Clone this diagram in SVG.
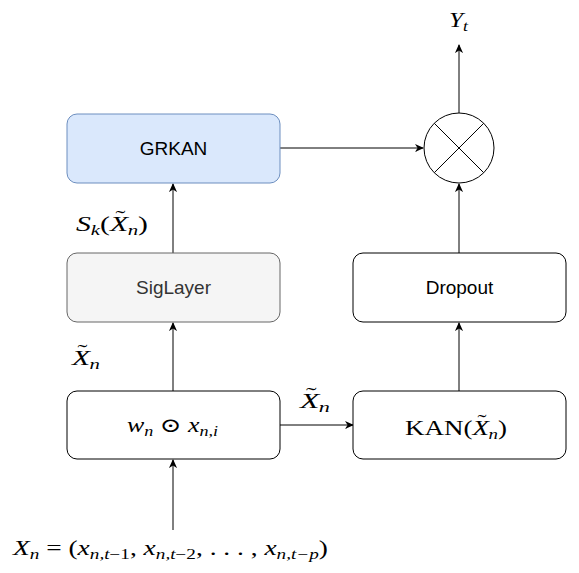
<svg xmlns="http://www.w3.org/2000/svg" width="579" height="573" viewBox="0 0 579 573">
<defs>
<marker id="ah" viewBox="0 0 10 10" refX="9" refY="5" markerWidth="9" markerHeight="9" markerUnits="userSpaceOnUse" orient="auto">
<path d="M0,0.5 L10,5 L0,9.5 L3,5 Z" fill="#000"/>
</marker>
<style>
.box{fill:#fff;stroke:#000;stroke-width:1}
.lbl{font-family:"Helvetica","Liberation Sans",Arial,sans-serif;font-size:19px;text-anchor:middle;fill:#000}
.m{font-family:"Liberation Serif","DejaVu Serif",serif;font-size:20px;fill:#000}
.i{font-style:italic}
.s{font-size:14px}
.c{fill:none;stroke:#000;stroke-width:1}
</style>
</defs>
<rect width="579" height="573" fill="#fff"/>

<g id="connectors">
<path class="c" d="M173,530 L173,460" marker-end="url(#ah)"/>
<path class="c" d="M173,391 L173,323" marker-end="url(#ah)"/>
<path class="c" d="M173,253 L173,184" marker-end="url(#ah)"/>
<path class="c" d="M280,148 L423,148" marker-end="url(#ah)"/>
<path class="c" d="M280,425 L353,425" marker-end="url(#ah)"/>
<path class="c" d="M459,391 L459,323" marker-end="url(#ah)"/>
<path class="c" d="M459,253 L459,184" marker-end="url(#ah)"/>
<path class="c" d="M459,113 L459,45" marker-end="url(#ah)"/>
</g>

<g id="grkan">
<rect x="67" y="114" width="213" height="69" rx="10" fill="#dae8fc" stroke="#6c8ebf"/>
<text class="lbl" x="173.5" y="155">GRKAN</text>
</g>

<g id="siglayer">
<rect x="67" y="253" width="213" height="69" rx="10" fill="#f5f5f5" stroke="#666666"/>
<text class="lbl" x="173.5" y="294" style="fill:#333333">SigLayer</text>
</g>

<g id="weight">
<rect class="box" x="67" y="391" width="213" height="68" rx="10"/>
<text class="m" x="127" y="432" textLength="91" lengthAdjust="spacingAndGlyphs"><tspan class="i">w</tspan><tspan class="s i" dy="4">n</tspan><tspan dy="-4"> ⊙ </tspan><tspan class="i">x</tspan><tspan class="s i" dy="4">n,i</tspan></text>
</g>

<g id="kan">
<rect class="box" x="353" y="391" width="213" height="68" rx="10"/>
<text class="m" x="405" y="435" textLength="102" lengthAdjust="spacingAndGlyphs">KAN(<tspan class="i">X</tspan><tspan dx="-8.5" dy="-6">˜</tspan><tspan class="s i" dx="1.5" dy="10">n</tspan><tspan dy="-4">)</tspan></text>
</g>

<g id="dropout">
<rect class="box" x="353" y="253" width="213" height="69" rx="10"/>
<text class="lbl" x="459.5" y="294">Dropout</text>
</g>

<g id="multiply">
<circle cx="459" cy="148" r="35" fill="#fff" stroke="#000"/>
<path class="c" d="M434.3,123.3 L483.7,172.7 M483.7,123.3 L434.3,172.7"/>
</g>

<g id="labels">
<text class="m" x="449" y="27" textLength="19" lengthAdjust="spacingAndGlyphs"><tspan class="i">Y</tspan><tspan class="s i" dy="4">t</tspan></text>
<text class="m" x="76" y="231" textLength="72" lengthAdjust="spacingAndGlyphs"><tspan class="i">S</tspan><tspan class="s i" dy="4">k</tspan><tspan dy="-4">(</tspan><tspan class="i">X</tspan><tspan dx="-8.5" dy="-6">˜</tspan><tspan class="s i" dx="1.5" dy="10">n</tspan><tspan dy="-4">)</tspan></text>
<text class="m" x="72" y="365" textLength="28" lengthAdjust="spacingAndGlyphs"><tspan class="i">X</tspan><tspan dx="-8.5" dy="-6">˜</tspan><tspan class="s i" dx="1.5" dy="10">n</tspan></text>
<text class="m" x="300" y="408" textLength="30" lengthAdjust="spacingAndGlyphs"><tspan class="i">X</tspan><tspan dx="-8.5" dy="-6">˜</tspan><tspan class="s i" dx="1.5" dy="10">n</tspan></text>
<text class="m" x="13" y="555" textLength="315" lengthAdjust="spacingAndGlyphs"><tspan class="i">X</tspan><tspan class="s i" dy="4">n</tspan><tspan dy="-4"> = (</tspan><tspan class="i">x</tspan><tspan class="s" dy="4"><tspan class="i">n,t</tspan>−1</tspan><tspan dy="-4">, </tspan><tspan class="i">x</tspan><tspan class="s" dy="4"><tspan class="i">n,t</tspan>−2</tspan><tspan dy="-4">, . . . , </tspan><tspan class="i">x</tspan><tspan class="s i" dy="4">n,t−p</tspan><tspan dy="-4">)</tspan></text>
</g>
</svg>
